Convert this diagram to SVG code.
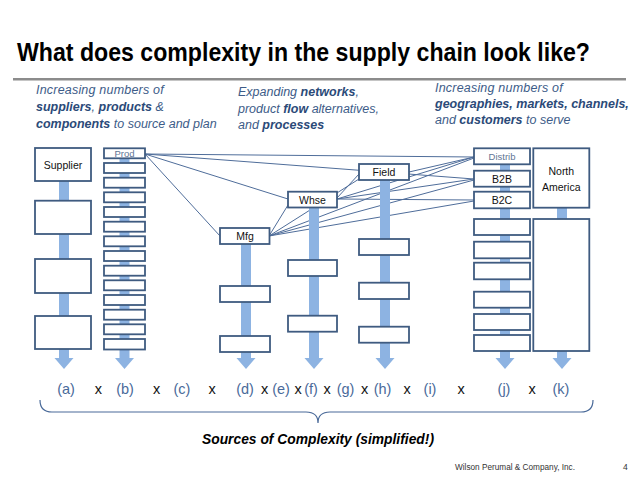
<svg xmlns="http://www.w3.org/2000/svg" width="638" height="479" viewBox="0 0 638 479">
<style>
.bx{fill:#fff;stroke:#3f5b80;stroke-width:1.8}
.bar{fill:#8db3e2}
.cn{stroke:#4f6d9a;stroke-width:1;fill:none}
.hd{font-family:"Liberation Sans",Arial,sans-serif;font-size:12.5px;font-style:italic;fill:#3d5c88}
.hd .b{font-weight:bold;fill:#2b4a78}
.nl{font-family:"Liberation Sans",Arial,sans-serif;font-size:10.5px;fill:#111;text-anchor:middle}
.nl2{font-family:"Liberation Sans",Arial,sans-serif;font-size:9.5px;fill:#5f7595;text-anchor:middle}
.lb{font-family:"Liberation Sans",Arial,sans-serif;font-size:14.5px;fill:#4a6a9a;text-anchor:middle}
.lx{font-family:"Liberation Sans",Arial,sans-serif;font-size:14.5px;fill:#111;text-anchor:middle}
</style>
<rect width="638" height="479" fill="#fff"/>
<text x="17" y="61" font-family="Liberation Sans,Arial,sans-serif" font-size="25" font-weight="bold" fill="#000" textLength="573" lengthAdjust="spacingAndGlyphs">What does complexity in the supply chain look like?</text>
<rect x="13" y="78" width="613" height="2.5" fill="#8c8c8c"/>

<g id="headers" class="hd">
<text x="36" y="94" letter-spacing="0.2">Increasing numbers of</text>
<text x="36" y="111"><tspan class="b">suppliers</tspan>, <tspan class="b">products</tspan> &amp;</text>
<text x="36" y="127.5"><tspan class="b">components</tspan> to source and plan</text>
<text x="238" y="96">Expanding <tspan class="b">networks</tspan>,</text>
<text x="238" y="112.5">product <tspan class="b">flow</tspan> alternatives,</text>
<text x="238" y="129">and <tspan class="b">processes</tspan></text>
<text x="435" y="92" letter-spacing="0.2">Increasing numbers of</text>
<text x="435" y="108"><tspan class="b">geographies, markets, channels,</tspan></text>
<text x="435" y="124">and <tspan class="b">customers</tspan> to serve</text>
</g>

<g id="connectors" class="cn">
<line x1="145" y1="154" x2="474" y2="157"/>
<line x1="145" y1="154" x2="474" y2="179"/>
<line x1="145" y1="154" x2="288" y2="199"/>
<line x1="145" y1="154" x2="220" y2="236"/>
<line x1="269" y1="236" x2="288" y2="205"/>
<line x1="269" y1="236" x2="359" y2="179"/>
<line x1="269" y1="236" x2="474" y2="158"/>
<line x1="269" y1="236" x2="474" y2="180"/>
<line x1="269" y1="236" x2="474" y2="201"/>
<line x1="337" y1="198" x2="359" y2="174"/>
<line x1="337" y1="199" x2="474" y2="157"/>
<line x1="337" y1="199" x2="474" y2="179"/>
<line x1="337" y1="199" x2="474" y2="200"/>
<line x1="409" y1="172" x2="474" y2="157"/>
</g>

<g id="col-a">
<path class="bar" d="M59,165 H69 V358 H73.5 L64,369 L54.5,358 H59 Z"/>
<rect class="bx" x="35" y="148" width="56" height="33"/>
<text class="nl" x="63" y="168.5" font-size="11">Supplier</text>
<rect class="bx" x="35" y="200.7" width="56" height="33.3"/>
<rect class="bx" x="35" y="259" width="56" height="34"/>
<rect class="bx" x="35" y="316" width="56" height="33"/>
</g>

<g id="col-b">
<path class="bar" d="M119.5,153 H129.5 V358 H134 L124.5,369 L115,358 H119.5 Z"/>
<rect class="bx" x="104" y="148.3" width="41" height="10"/>
<text class="nl2" x="124.5" y="156.5">Prod</text>
<rect class="bx" x="104" y="163" width="41" height="10"/>
<rect class="bx" x="104" y="177.7" width="41" height="10"/>
<rect class="bx" x="104" y="192.3" width="41" height="10"/>
<rect class="bx" x="104" y="207" width="41" height="10"/>
<rect class="bx" x="104" y="221.7" width="41" height="10"/>
<rect class="bx" x="104" y="236.3" width="41" height="10"/>
<rect class="bx" x="104" y="251" width="41" height="10"/>
<rect class="bx" x="104" y="265.7" width="41" height="10"/>
<rect class="bx" x="104" y="280.3" width="41" height="10"/>
<rect class="bx" x="104" y="295" width="41" height="10"/>
<rect class="bx" x="104" y="309.7" width="41" height="10"/>
<rect class="bx" x="104" y="324.3" width="41" height="10"/>
<rect class="bx" x="104" y="339" width="41" height="10.5"/>
</g>

<g id="col-d">
<path class="bar" d="M241,236 H251 V358 H255.5 L246,369 L236.5,358 H241 Z"/>
<rect class="bx" x="220" y="228" width="49.5" height="16"/>
<text class="nl" x="245" y="240">Mfg</text>
<rect class="bx" x="220" y="286" width="50" height="16"/>
<rect class="bx" x="220" y="336" width="50" height="16"/>
</g>

<g id="col-f">
<path class="bar" d="M309,199 H319 V358 H323.5 L314,369 L304.5,358 H309 Z"/>
<rect class="bx" x="288" y="191.7" width="49" height="15.8"/>
<text class="nl" x="312.5" y="203.5">Whse</text>
<rect class="bx" x="288" y="260" width="49" height="16"/>
<rect class="bx" x="288" y="315.7" width="49" height="16"/>
</g>

<g id="col-h">
<path class="bar" d="M380,172 H390 V358 H394.5 L385,369 L375.5,358 H380 Z"/>
<rect class="bx" x="359" y="164" width="50" height="16"/>
<text class="nl" x="384" y="176">Field</text>
<rect class="bx" x="359" y="239" width="50" height="16"/>
<rect class="bx" x="359" y="282.7" width="50" height="16.3"/>
<rect class="bx" x="359" y="326.7" width="50" height="16"/>
</g>

<g id="col-j">
<path class="bar" d="M500,156 H510 V358 H514.5 L505,369 L495.5,358 H500 Z"/>
<rect class="bx" x="474" y="148.3" width="56" height="16"/>
<text class="nl2" x="502" y="160">Distrib</text>
<rect class="bx" x="474" y="170.7" width="56" height="16"/>
<text class="nl" x="502" y="182.5" font-size="10">B2B</text>
<rect class="bx" x="474" y="191.7" width="56" height="16.6"/>
<text class="nl" x="502" y="203.8" font-size="10">B2C</text>
<rect class="bx" x="474" y="219" width="56" height="16"/>
<rect class="bx" x="474" y="241.7" width="56" height="16.6"/>
<rect class="bx" x="474" y="262.7" width="56" height="16.6"/>
<rect class="bx" x="474" y="291.7" width="56" height="16"/>
<rect class="bx" x="474" y="314" width="56" height="16"/>
<rect class="bx" x="474" y="335" width="56" height="16"/>
</g>

<g id="col-k">
<path class="bar" d="M557,178 H567 V358 H571.5 L562,369 L552.5,358 H557 Z"/>
<rect class="bx" x="533.3" y="148.3" width="56" height="59.4"/>
<text class="nl" x="561.3" y="175" font-size="12">North</text>
<text class="nl" x="561.3" y="191" font-size="12">America</text>
<rect class="bx" x="533.3" y="219" width="56" height="132"/>
</g>

<g id="labels">
<text class="lb" x="66" y="394">(a)</text>
<text class="lx" x="98.3" y="394">x</text>
<text class="lb" x="125" y="394">(b)</text>
<text class="lx" x="156.7" y="394">x</text>
<text class="lb" x="182" y="394">(c)</text>
<text class="lx" x="212" y="394">x</text>
<text class="lb" x="245" y="394">(d)</text>
<text class="lx" x="264.5" y="394">x</text>
<text class="lb" x="281" y="394">(e)</text>
<text class="lx" x="298" y="394">x</text>
<text class="lb" x="311" y="394">(f)</text>
<text class="lx" x="327" y="394">x</text>
<text class="lb" x="345.5" y="394">(g)</text>
<text class="lx" x="364.5" y="394">x</text>
<text class="lb" x="382.5" y="394">(h)</text>
<text class="lx" x="407" y="394">x</text>
<text class="lb" x="430" y="394">(i)</text>
<text class="lx" x="461" y="394">x</text>
<text class="lb" x="504" y="394">(j)</text>
<text class="lx" x="532" y="394">x</text>
<text class="lb" x="561" y="394">(k)</text>
</g>

<path id="brace" d="M40,400 Q40,412 52,412 L306,412 Q318,412 318,423 Q318,412 330,412 L581,412 Q593,412 593,400" fill="none" stroke="#4a6a99" stroke-width="1.2"/>
<text x="318" y="444" text-anchor="middle" font-family="Liberation Sans,Arial,sans-serif" font-size="15" font-weight="bold" font-style="italic" fill="#000" textLength="232" lengthAdjust="spacingAndGlyphs">Sources of Complexity (simplified!)</text>
<text x="455" y="470" font-family="Liberation Sans,Arial,sans-serif" font-size="8.5" fill="#333" textLength="120" lengthAdjust="spacingAndGlyphs">Wilson Perumal &amp; Company, Inc.</text>
<text x="623" y="470" font-family="Liberation Sans,Arial,sans-serif" font-size="8.5" fill="#333">4</text>
</svg>
